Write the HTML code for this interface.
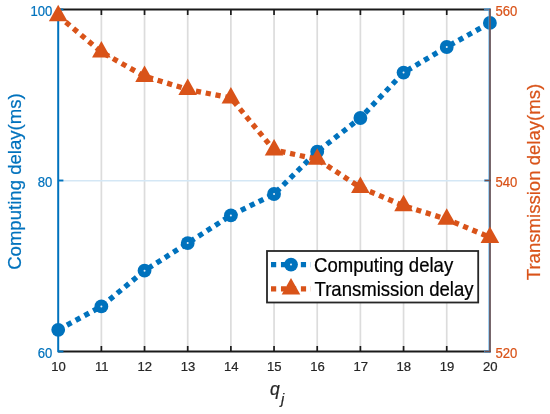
<!DOCTYPE html><html><head><meta charset="utf-8"><title>chart</title><style>html,body{margin:0;padding:0;background:#fff}svg{display:block}text{font-family:"Liberation Sans",Arial,Helvetica,sans-serif}</style></head><body>
<svg width="550" height="414" viewBox="0 0 550 414">
<rect width="550" height="414" fill="#fff"/>
<line x1="101.37" y1="9.5" x2="101.37" y2="351.5" stroke="#DCDCDC" stroke-width="1.7"/>
<line x1="144.54" y1="9.5" x2="144.54" y2="351.5" stroke="#DCDCDC" stroke-width="1.7"/>
<line x1="187.71" y1="9.5" x2="187.71" y2="351.5" stroke="#DCDCDC" stroke-width="1.7"/>
<line x1="230.88" y1="9.5" x2="230.88" y2="351.5" stroke="#DCDCDC" stroke-width="1.7"/>
<line x1="274.05" y1="9.5" x2="274.05" y2="351.5" stroke="#DCDCDC" stroke-width="1.7"/>
<line x1="317.22" y1="9.5" x2="317.22" y2="351.5" stroke="#DCDCDC" stroke-width="1.7"/>
<line x1="360.39" y1="9.5" x2="360.39" y2="351.5" stroke="#DCDCDC" stroke-width="1.7"/>
<line x1="403.56" y1="9.5" x2="403.56" y2="351.5" stroke="#DCDCDC" stroke-width="1.7"/>
<line x1="446.73" y1="9.5" x2="446.73" y2="351.5" stroke="#DCDCDC" stroke-width="1.7"/>
<line x1="58.2" y1="180.8" x2="489.9" y2="180.8" stroke="#D4E7F5" stroke-width="1.6"/>
<line x1="58.2" y1="9.5" x2="489.9" y2="9.5" stroke="#1a1a1a" stroke-width="1.8"/>
<line x1="58.2" y1="351.5" x2="489.9" y2="351.5" stroke="#1a1a1a" stroke-width="1.8"/>
<line x1="101.37" y1="9.5" x2="101.37" y2="15.0" stroke="#1a1a1a" stroke-width="1.7"/>
<line x1="101.37" y1="351.5" x2="101.37" y2="346.0" stroke="#1a1a1a" stroke-width="1.7"/>
<line x1="144.54" y1="9.5" x2="144.54" y2="15.0" stroke="#1a1a1a" stroke-width="1.7"/>
<line x1="144.54" y1="351.5" x2="144.54" y2="346.0" stroke="#1a1a1a" stroke-width="1.7"/>
<line x1="187.71" y1="9.5" x2="187.71" y2="15.0" stroke="#1a1a1a" stroke-width="1.7"/>
<line x1="187.71" y1="351.5" x2="187.71" y2="346.0" stroke="#1a1a1a" stroke-width="1.7"/>
<line x1="230.88" y1="9.5" x2="230.88" y2="15.0" stroke="#1a1a1a" stroke-width="1.7"/>
<line x1="230.88" y1="351.5" x2="230.88" y2="346.0" stroke="#1a1a1a" stroke-width="1.7"/>
<line x1="274.05" y1="9.5" x2="274.05" y2="15.0" stroke="#1a1a1a" stroke-width="1.7"/>
<line x1="274.05" y1="351.5" x2="274.05" y2="346.0" stroke="#1a1a1a" stroke-width="1.7"/>
<line x1="317.22" y1="9.5" x2="317.22" y2="15.0" stroke="#1a1a1a" stroke-width="1.7"/>
<line x1="317.22" y1="351.5" x2="317.22" y2="346.0" stroke="#1a1a1a" stroke-width="1.7"/>
<line x1="360.39" y1="9.5" x2="360.39" y2="15.0" stroke="#1a1a1a" stroke-width="1.7"/>
<line x1="360.39" y1="351.5" x2="360.39" y2="346.0" stroke="#1a1a1a" stroke-width="1.7"/>
<line x1="403.56" y1="9.5" x2="403.56" y2="15.0" stroke="#1a1a1a" stroke-width="1.7"/>
<line x1="403.56" y1="351.5" x2="403.56" y2="346.0" stroke="#1a1a1a" stroke-width="1.7"/>
<line x1="446.73" y1="9.5" x2="446.73" y2="15.0" stroke="#1a1a1a" stroke-width="1.7"/>
<line x1="446.73" y1="351.5" x2="446.73" y2="346.0" stroke="#1a1a1a" stroke-width="1.7"/>
<polyline points="58.20,329.80 101.37,306.40 144.54,270.70 187.71,243.10 230.88,215.40 274.05,194.00 317.22,151.70 360.39,118.00 403.56,72.60 446.73,47.00 489.90,22.90" fill="none" stroke="#0072BD" stroke-width="5.3" stroke-dasharray="5.2 4.75"/>
<circle cx="58.20" cy="329.80" r="6.9" fill="#0072BD"/>
<circle cx="101.37" cy="306.40" r="6.9" fill="#0072BD"/>
<circle cx="101.37" cy="306.40" r="1.0" fill="#e6f0f8"/>
<circle cx="144.54" cy="270.70" r="6.9" fill="#0072BD"/>
<circle cx="144.54" cy="270.70" r="1.0" fill="#e6f0f8"/>
<circle cx="187.71" cy="243.10" r="6.9" fill="#0072BD"/>
<circle cx="187.71" cy="243.10" r="1.0" fill="#e6f0f8"/>
<circle cx="230.88" cy="215.40" r="6.9" fill="#0072BD"/>
<circle cx="230.88" cy="215.40" r="1.0" fill="#e6f0f8"/>
<circle cx="274.05" cy="194.00" r="6.9" fill="#0072BD"/>
<circle cx="274.05" cy="194.00" r="1.0" fill="#e6f0f8"/>
<circle cx="317.22" cy="151.70" r="6.9" fill="#0072BD"/>
<circle cx="360.39" cy="118.00" r="6.9" fill="#0072BD"/>
<circle cx="403.56" cy="72.60" r="6.9" fill="#0072BD"/>
<circle cx="403.56" cy="72.60" r="1.0" fill="#e6f0f8"/>
<circle cx="446.73" cy="47.00" r="6.9" fill="#0072BD"/>
<circle cx="446.73" cy="47.00" r="1.0" fill="#e6f0f8"/>
<circle cx="489.90" cy="22.90" r="6.9" fill="#0072BD"/>
<line x1="58.2" y1="8.7" x2="58.2" y2="352.3" stroke="#0072BD" stroke-width="2"/>
<line x1="58.2" y1="9.5" x2="63.400000000000006" y2="9.5" stroke="#0072BD" stroke-width="1.9"/>
<line x1="58.2" y1="180.5" x2="63.400000000000006" y2="180.5" stroke="#0072BD" stroke-width="1.9"/>
<line x1="58.2" y1="351.5" x2="63.400000000000006" y2="351.5" stroke="#0072BD" stroke-width="1.9"/>
<line x1="489.59999999999997" y1="8.4" x2="489.59999999999997" y2="352.6" stroke="#4DA6E8" stroke-width="2.2"/>
<line x1="490.7" y1="9.5" x2="484.2" y2="9.5" stroke="#4DA6E8" stroke-width="2.2"/>
<line x1="490.7" y1="180.5" x2="484.2" y2="180.5" stroke="#4DA6E8" stroke-width="2.2"/>
<line x1="490.7" y1="351.5" x2="484.2" y2="351.5" stroke="#4DA6E8" stroke-width="2.2"/>
<line x1="490.7" y1="9.5" x2="484.7" y2="9.5" stroke="#704C46" stroke-width="0.5"/>
<line x1="490.7" y1="180.5" x2="484.7" y2="180.5" stroke="#704C46" stroke-width="1.4"/>
<line x1="490.7" y1="351.5" x2="484.7" y2="351.5" stroke="#704C46" stroke-width="1.4"/>
<line x1="490.0" y1="8.8" x2="490.0" y2="352.2" stroke="#75504A" stroke-width="1.6"/>
<polyline points="58.20,15.70 101.37,52.00 144.54,76.30 187.71,89.40 230.88,98.00 274.05,150.00 317.22,159.20 360.39,187.50 403.56,205.70 446.73,219.20 489.90,237.30" fill="none" stroke="#D95319" stroke-width="5.3" stroke-dasharray="5.2 4.765"/>
<polygon points="58.20,4.80 67.50,21.30 48.90,21.30" fill="#D95319"/>
<polygon points="101.37,41.10 110.67,57.60 92.07,57.60" fill="#D95319"/>
<polygon points="144.54,65.40 153.84,81.90 135.24,81.90" fill="#D95319"/>
<polygon points="187.71,78.50 197.01,95.00 178.41,95.00" fill="#D95319"/>
<polygon points="230.88,87.10 240.18,103.60 221.58,103.60" fill="#D95319"/>
<polygon points="274.05,139.10 283.35,155.60 264.75,155.60" fill="#D95319"/>
<polygon points="317.22,148.30 326.52,164.80 307.92,164.80" fill="#D95319"/>
<polygon points="360.39,176.60 369.69,193.10 351.09,193.10" fill="#D95319"/>
<polygon points="403.56,194.80 412.86,211.30 394.26,211.30" fill="#D95319"/>
<polygon points="446.73,208.30 456.03,224.80 437.43,224.80" fill="#D95319"/>
<polygon points="489.90,226.40 499.20,242.90 480.60,242.90" fill="#D95319"/>
<text transform="translate(58.5,371.0) scale(1,1.02)" font-size="13.1" fill="#262626" stroke="#262626" stroke-width="0.22" text-anchor="middle">10</text>
<text transform="translate(101.67,371.0) scale(1,1.02)" font-size="13.1" fill="#262626" stroke="#262626" stroke-width="0.22" text-anchor="middle">11</text>
<text transform="translate(144.84,371.0) scale(1,1.02)" font-size="13.1" fill="#262626" stroke="#262626" stroke-width="0.22" text-anchor="middle">12</text>
<text transform="translate(188.01000000000002,371.0) scale(1,1.02)" font-size="13.1" fill="#262626" stroke="#262626" stroke-width="0.22" text-anchor="middle">13</text>
<text transform="translate(231.18,371.0) scale(1,1.02)" font-size="13.1" fill="#262626" stroke="#262626" stroke-width="0.22" text-anchor="middle">14</text>
<text transform="translate(274.35,371.0) scale(1,1.02)" font-size="13.1" fill="#262626" stroke="#262626" stroke-width="0.22" text-anchor="middle">15</text>
<text transform="translate(317.52000000000004,371.0) scale(1,1.02)" font-size="13.1" fill="#262626" stroke="#262626" stroke-width="0.22" text-anchor="middle">16</text>
<text transform="translate(360.69,371.0) scale(1,1.02)" font-size="13.1" fill="#262626" stroke="#262626" stroke-width="0.22" text-anchor="middle">17</text>
<text transform="translate(403.86,371.0) scale(1,1.02)" font-size="13.1" fill="#262626" stroke="#262626" stroke-width="0.22" text-anchor="middle">18</text>
<text transform="translate(447.03000000000003,371.0) scale(1,1.02)" font-size="13.1" fill="#262626" stroke="#262626" stroke-width="0.22" text-anchor="middle">19</text>
<text transform="translate(490.2,371.0) scale(1,1.02)" font-size="13.1" fill="#262626" stroke="#262626" stroke-width="0.22" text-anchor="middle">20</text>
<text transform="translate(52.3,15.6) scale(1,1.085)" font-size="13.1" fill="#0072BD" stroke="#0072BD" stroke-width="0.22" text-anchor="end">100</text>
<text transform="translate(52.3,186.6) scale(1,1.085)" font-size="13.1" fill="#0072BD" stroke="#0072BD" stroke-width="0.22" text-anchor="end">80</text>
<text transform="translate(52.3,357.6) scale(1,1.085)" font-size="13.1" fill="#0072BD" stroke="#0072BD" stroke-width="0.22" text-anchor="end">60</text>
<text transform="translate(495.4,15.7) scale(1,1.085)" font-size="13.1" fill="#D95319" stroke="#D95319" stroke-width="0.22" text-anchor="start">560</text>
<text transform="translate(495.4,186.7) scale(1,1.085)" font-size="13.1" fill="#D95319" stroke="#D95319" stroke-width="0.22" text-anchor="start">540</text>
<text transform="translate(495.4,357.7) scale(1,1.085)" font-size="13.1" fill="#D95319" stroke="#D95319" stroke-width="0.22" text-anchor="start">520</text>
<text transform="translate(20.9,181.6) rotate(-90) scale(1.033,1)" font-size="18.0" fill="#0072BD" stroke="#0072BD" stroke-width="0.22" text-anchor="middle">Computing delay(ms)</text>
<text transform="translate(540.3,182) rotate(-90) scale(1.033,1)" font-size="18.0" fill="#D95319" stroke="#D95319" stroke-width="0.22" text-anchor="middle">Transmission delay(ms)</text>
<text transform="translate(270,394.6) scale(1,1)" font-size="17.6" fill="#262626" stroke="#262626" stroke-width="0.22" text-anchor="start" font-style="italic">q<tspan font-size="14.6" dy="9.4" dx="1.2">j</tspan></text>
<rect x="267" y="251" width="211.2" height="51.5" fill="#fff" stroke="#262626" stroke-width="1.8"/>
<line x1="271" y1="264.6" x2="311.0" y2="264.6" stroke="#0072BD" stroke-width="5.3" stroke-dasharray="5.2 4.75"/>
<circle cx="291" cy="264.6" r="6.9" fill="#0072BD"/><circle cx="291" cy="264.6" r="1.0" fill="#e6f0f8"/>
<line x1="271" y1="288.8" x2="311.0" y2="288.8" stroke="#D95319" stroke-width="5.3" stroke-dasharray="5.2 4.765"/>
<polygon points="291.00,277.90 300.30,294.40 281.70,294.40" fill="#D95319"/>
<text transform="translate(314,271.5) scale(1,1.07)" font-size="18.55" fill="#000" stroke="#000" stroke-width="0.22" text-anchor="start">Computing delay</text>
<text transform="translate(314.5,295.8) scale(1,1.07)" font-size="18.55" fill="#000" stroke="#000" stroke-width="0.22" text-anchor="start">Transmission delay</text>
</svg></body></html>
